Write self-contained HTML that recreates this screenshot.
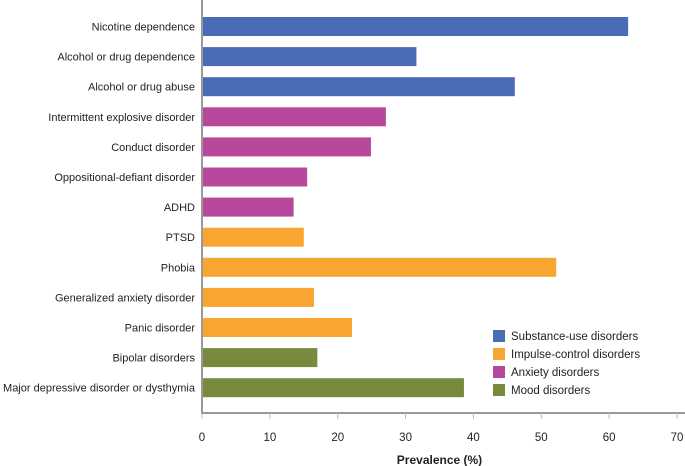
<!DOCTYPE html>
<html><head><meta charset="utf-8"><style>
body{margin:0;background:#fff}
svg{display:block;font-family:"Liberation Sans",sans-serif}
</style></head><body>
<svg id="c" width="685" height="466"></svg>
<script>
const categories=["Nicotine dependence","Alcohol or drug dependence","Alcohol or drug abuse","Intermittent explosive disorder","Conduct disorder","Oppositional-defiant disorder","ADHD","PTSD","Phobia","Generalized anxiety disorder","Panic disorder","Bipolar disorders","Major depressive disorder or dysthymia"];
const values=[62.8,31.6,46.1,27.1,24.9,15.5,13.5,15.0,52.2,16.5,22.1,17.0,38.6];
const groups=[0,0,0,2,2,2,2,1,1,1,1,3,3];
const groupNames=["Substance-use disorders","Impulse-control disorders","Anxiety disorders","Mood disorders"];
const groupColors=["#4a6bb6","#f9a532","#b8489c","#778a3d"];
const ticks=[0,10,20,30,40,50,60,70];
const NS="http://www.w3.org/2000/svg";
const svg=document.getElementById('c');
function mk(t,a,p){const e=document.createElementNS(NS,t);for(const k in a)e.setAttribute(k,a[k]);(p||svg).appendChild(e);return e;}
const x0=202,x1=677,xMax=70;
const X=v=>x0+v/xMax*(x1-x0);
const Y=i=>26.5+i*30.1;
const bh=19;
categories.forEach((c,i)=>{
  const r=mk('rect',{x:X(0),y:Y(i)-bh/2,width:X(values[i])-X(0),height:bh,fill:groupColors[groups[i]]});
  
  
  const t=mk('text',{x:195,y:Y(i)+4,'text-anchor':'end','font-size':11,fill:'#222'});
  t.textContent=c;
  
  
});
const ax=mk('line',{x1:x0,y1:0,x2:x0,y2:413,stroke:'#999','stroke-width':2});


const bx=mk('line',{x1:x0-1,y1:413,x2:685,y2:413,stroke:'#999','stroke-width':2});


ticks.forEach(v=>{
  const l=mk('line',{x1:X(v),y1:413,x2:X(v),y2:419,stroke:'#bbb','stroke-width':1});
  
  
  const t=mk('text',{x:X(v),y:441,'text-anchor':'middle','font-size':11.5,fill:'#222'});
  t.textContent=v;
  
  
});
const xt=mk('text',{x:X(35),y:464,'text-anchor':'middle','font-size':12,'font-weight':'bold',fill:'#222'});
xt.textContent='Prevalence (%)';


const lg=mk('g',{});


groupNames.forEach((n,i)=>{
  const r=mk('rect',{x:493,y:330+i*18,width:12,height:12,fill:groupColors[i]},lg);
  
  
  const t=mk('text',{x:511,y:340+i*18,'font-size':11.5,fill:'#222'},lg);
  t.textContent=n;
  
  
});
</script>
</body></html>
